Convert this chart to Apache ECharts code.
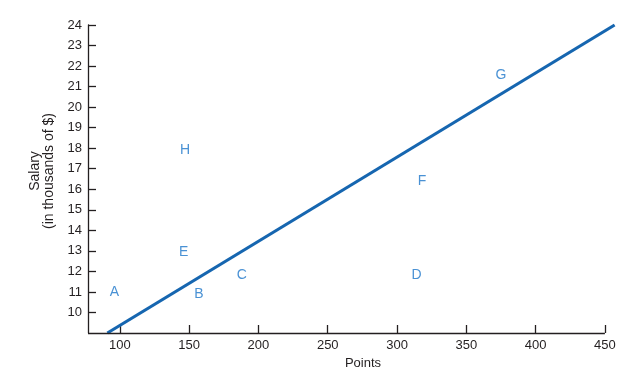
<!DOCTYPE html>
<html><head><meta charset="utf-8">
<script src="https://cdn.jsdelivr.net/npm/echarts@6/dist/echarts.min.js"></script>
<style>html,body{margin:0;padding:0;background:#fff}#c{width:644px;height:375px}</style>
</head><body><div id="c"></div>
<script>
// Data
const letters = ['A','B','C','D','E','F','G','H'];
const pointsX = [96, 157, 188, 314, 146, 318, 375, 147];
const salaryY = [11, 10.87, 11.8, 11.8, 12.95, 16.4, 21.55, 17.9];
const lineX = [91, 457];
const lineY = [9, 24];
const xTicks = [100, 150, 200, 250, 300, 350, 400, 450];
const yTicks = [10,11,12,13,14,15,16,17,18,19,20,21,22,23,24];

const font = 'Liberation Sans, Arial, Helvetica, sans-serif';
const chart = echarts.init(document.getElementById('c'), null, {renderer:'canvas'});
chart.setOption({
  animation:false,
  backgroundColor:'#fff',
  grid:{left:88, right:28, top:25, bottom:39, containLabel:false},
  xAxis:{
    type:'value', min:77, max:458,
    axisLine:{show:false},
    axisTick:{show:true, inside:true, length:8, customValues:xTicks, lineStyle:{color:'#231f20', width:1.3}},
    axisLabel:{customValues:xTicks, margin:6, color:'#231f20', fontSize:13, fontFamily:font},
    splitLine:{show:false},
    name:'Points', nameLocation:'middle', nameGap:24,
    nameTextStyle:{color:'#231f20', fontSize:13, fontFamily:font, padding:[0,0,0,22]}
  },
  yAxis:{
    type:'value', min:9, max:24, interval:1,
    axisLine:{show:true, lineStyle:{color:'#231f20', width:1.3}},
    axisTick:{show:true, inside:true, length:8, customValues:yTicks, lineStyle:{color:'#231f20', width:1.3}},
    axisLabel:{customValues:yTicks, margin:6, color:'#231f20', fontSize:13, fontFamily:font},
    splitLine:{show:false},
    name:'Salary\n(in thousands of $)', nameLocation:'middle', nameGap:30, nameRotate:90,
    nameTextStyle:{color:'#231f20', fontSize:14, fontFamily:font, lineHeight:14, padding:[0,0,0,16]}
  },
  series:[
    {
      type:'line', data:lineX.map((x,i)=>[x,lineY[i]]), symbol:'none', clip:false,
      lineStyle:{color:'#1666b0', width:3.2},
      markLine:{silent:true, symbol:'none', label:{show:false},
        lineStyle:{color:'#231f20', width:1.3, type:'solid'},
        data:[[{coord:[77,9]},{coord:[450,9]}]]}
    },
    {
      type:'scatter', symbolSize:1, itemStyle:{color:'rgba(0,0,0,0)'},
      data:letters.map((l,i)=>({value:[pointsX[i], salaryY[i]], name:l})),
      label:{show:true, position:'inside', formatter:p=>p.name, color:'#1b75c9', fontSize:14, fontFamily:font}
    }
  ]
});
</script></body></html>
